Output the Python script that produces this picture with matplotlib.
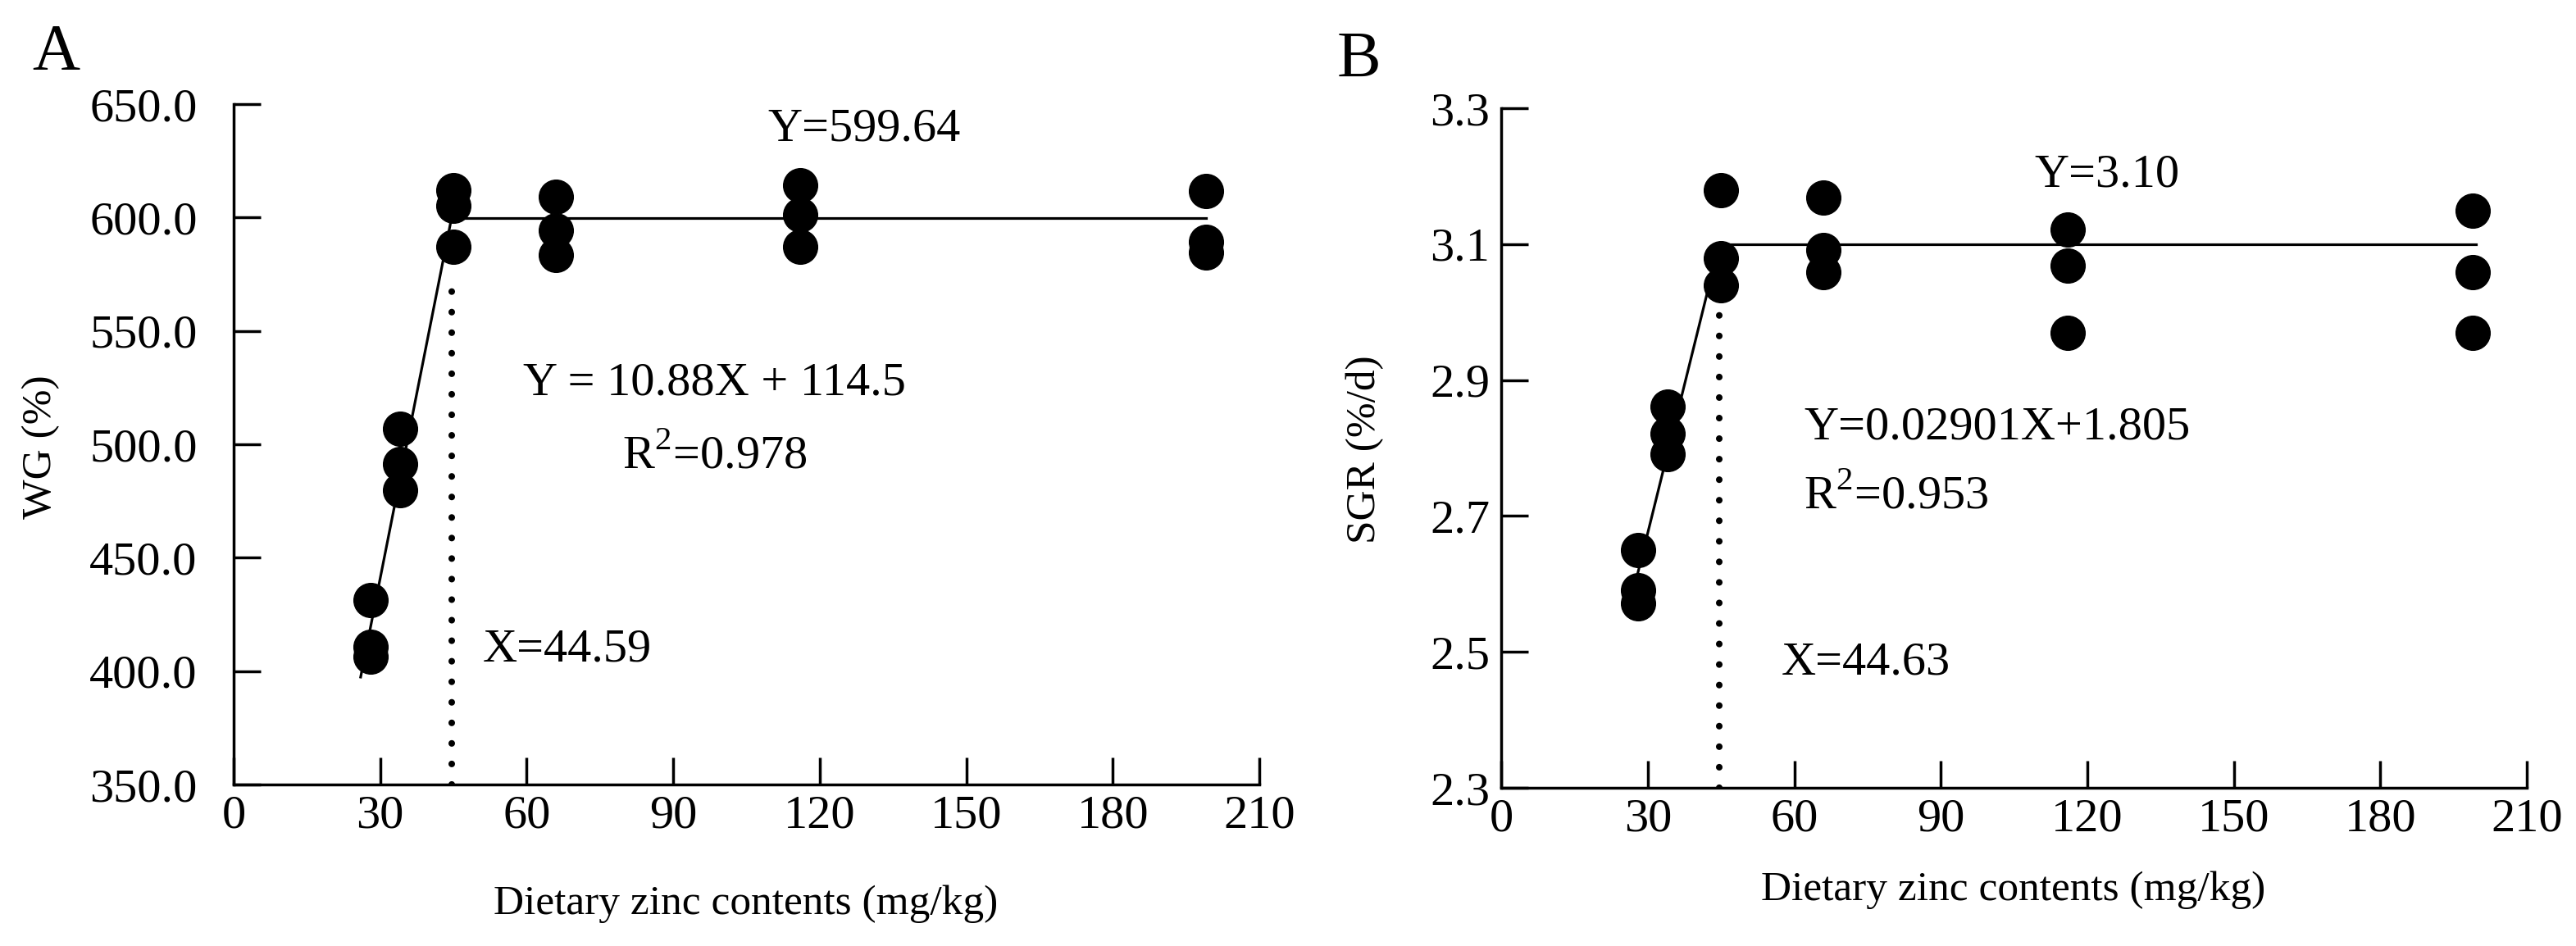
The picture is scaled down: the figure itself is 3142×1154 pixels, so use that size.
import matplotlib
matplotlib.use("Agg")
import matplotlib.pyplot as plt
from matplotlib.ticker import FormatStrFormatter

plt.rcParams['font.family'] = ['Liberation Serif', 'DejaVu Serif']
plt.rcParams['mathtext.fontset'] = 'custom'
plt.rcParams['mathtext.rm'] = 'Liberation Serif'

# dietary zinc levels (three replicates each)
zinc = [28, 28, 28, 34, 34, 34, 45, 45, 45, 66, 66, 66, 116, 116, 116, 199, 199, 199]
wg = [431.3, 410.8, 406.3, 506.8, 491.3, 479.9, 612.0, 605.1, 587.0,
      609.1, 594.2, 583.6, 614.1, 601.1, 587.0, 611.7, 589.4, 584.6]
sgr = [2.650, 2.591, 2.571, 2.861, 2.821, 2.791, 3.180, 3.079, 3.039,
       3.168, 3.091, 3.059, 3.121, 3.068, 2.970, 3.149, 3.059, 2.970]

# broken-line fits
wg_slope, wg_int, wg_break, wg_plateau = 10.88, 114.5, 44.59, 599.64
sgr_slope, sgr_int, sgr_break, sgr_plateau = 0.02901, 1.805, 44.63, 3.10
line_start = [26.0, 27.0]
line_end = [199.0, 199.6]
dot_top = [576.0, 3.02]

xticks = [0, 30, 60, 90, 120, 150, 180, 210]
wg_ticks = [350, 400, 450, 500, 550, 600, 650]
sgr_ticks = [2.3, 2.5, 2.7, 2.9, 3.1, 3.3]

fig = plt.figure(figsize=(31.42, 11.54), dpi=100)
axA = fig.add_axes([0.0907, 0.1707, 0.3982, 0.7192])
axB = fig.add_axes([0.5828, 0.1672, 0.3981, 0.7184])

panels = [
    (axA, wg, wg_slope, wg_int, wg_break, wg_plateau, wg_ticks, 'WG (%)', 32),
    (axB, sgr, sgr_slope, sgr_int, sgr_break, sgr_plateau, sgr_ticks, 'SGR (%/d)', 10),
]

for i, (ax, y, k, b, xb, plat, yt, ylab, ypad) in enumerate(panels):
    x0 = line_start[i]
    ax.plot([x0, xb], [k * x0 + b, k * xb + b], color='black', lw=2.3, zorder=2)
    ax.plot([xb, line_end[i]], [plat, plat], color='black', lw=2.3, zorder=2)
    ax.plot([xb, xb], [yt[0], dot_top[i]], color='black', lw=5.8,
            linestyle=(0, (0.01, 3.1)), dash_capstyle='round', zorder=2)
    ax.plot(zinc, y, 'o', color='black', markersize=30, zorder=3, clip_on=False)

    ax.set_xlim(0, 210)
    ax.set_ylim(yt[0], yt[-1])
    ax.set_xticks(xticks)
    ax.set_yticks(yt)
    ax.yaxis.set_major_formatter(FormatStrFormatter('%.1f'))
    for s in ['top', 'right']:
        ax.spines[s].set_visible(False)
    for s in ['left', 'bottom']:
        ax.spines[s].set_linewidth(2.5)
    ax.tick_params(axis='both', direction='in', length=24, width=2.5, labelsize=42)
    ax.tick_params(axis='y', pad=ypad)
    ax.tick_params(axis='x', pad=9)
    ax.set_xlabel('Dietary zinc contents (mg/kg)', fontsize=37, va='center')
    ax.set_ylabel(ylab, fontsize=37, va='center')

axA.xaxis.set_label_coords(0.4996, -0.175)
axB.xaxis.set_label_coords(0.499, -0.151)
axA.yaxis.set_label_coords(-0.188, 0.496)
axB.yaxis.set_label_coords(-0.133, 0.498)

# annotations panel A
axA.text(129, 639, 'Y=599.64', fontsize=42, ha='center', va='center')
axA.text(98.5, 527, 'Y = 10.88X + 114.5', fontsize=42, ha='center', va='center')
axA.text(98.5, 495, 'R$^2$=0.978', fontsize=42, ha='center', va='center')
axA.text(51, 409.5, 'X=44.59', fontsize=42, ha='left', va='center')

# annotations panel B
axB.text(124, 3.202, 'Y=3.10', fontsize=42, ha='center', va='center')
axB.text(62, 2.83, 'Y=0.02901X+1.805', fontsize=42, ha='left', va='center')
axB.text(62, 2.729, 'R$^2$=0.953', fontsize=42, ha='left', va='center')
axB.text(57.3, 2.484, 'X=44.63', fontsize=42, ha='left', va='center')

fig.text(0.0124, 0.926, 'A', fontsize=58, ha='left', va='baseline')
fig.text(0.519, 0.919, 'B', fontsize=58, ha='left', va='baseline')

fig.savefig('out.png', dpi=100)
